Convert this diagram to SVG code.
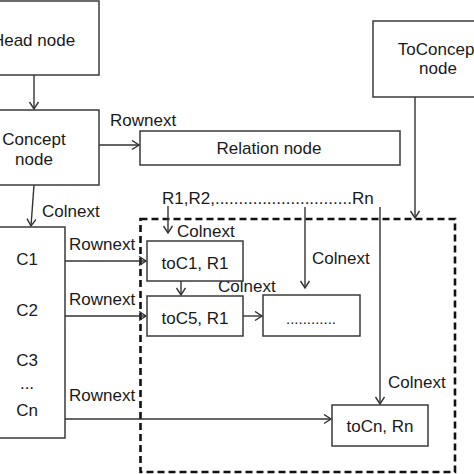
<svg xmlns="http://www.w3.org/2000/svg" width="474" height="474" viewBox="0 0 474 474">
<style>
.box{fill:#fff;stroke:#3a3a3a;stroke-width:1.5}
.ln{fill:none;stroke:#333;stroke-width:1.4}
.dash{fill:none;stroke:#111;stroke-width:2.6;stroke-dasharray:7,4}
text{font-family:"Liberation Sans",Arial,sans-serif;font-size:17px;fill:#1a1a1a}
.c{text-anchor:middle}
</style>
<defs>
<marker id="ah" markerUnits="userSpaceOnUse" markerWidth="12" markerHeight="12" refX="8" refY="5" orient="auto">
<path d="M1,0.5 L8,5 L1,9.5" fill="none" stroke="#333" stroke-width="1.4"/>
</marker>
</defs>
<rect width="474" height="474" fill="#fff"/>
<g id="container">
<rect class="dash" x="140.5" y="219" width="314.5" height="253"/>
</g>
<g id="connectors">
<line class="ln" x1="34" y1="75" x2="34" y2="109" marker-end="url(#ah)"/>
<line class="ln" x1="99" y1="145" x2="139" y2="145" marker-end="url(#ah)"/>
<text x="110" y="126">Rownext</text>
<line class="ln" x1="34" y1="185" x2="31" y2="226" marker-end="url(#ah)"/>
<text x="42" y="217">Colnext</text>
<line class="ln" x1="415" y1="97" x2="415" y2="218" marker-end="url(#ah)"/>
<line class="ln" x1="65" y1="261" x2="146" y2="261" marker-end="url(#ah)"/>
<text x="69" y="250">Rownext</text>
<line class="ln" x1="65" y1="316" x2="146" y2="316" marker-end="url(#ah)"/>
<text x="69" y="305">Rownext</text>
<line class="ln" x1="65" y1="419" x2="331" y2="419" marker-end="url(#ah)"/>
<text x="69" y="401">Rownext</text>
<line class="ln" x1="168" y1="206" x2="168" y2="233" marker-end="url(#ah)"/>
<text x="177" y="237">Colnext</text>
<line class="ln" x1="181" y1="281" x2="181" y2="295" marker-end="url(#ah)"/>
<text x="218" y="292">Colnext</text>
<line class="ln" x1="243" y1="316" x2="262" y2="316" marker-end="url(#ah)"/>
<line class="ln" x1="305" y1="207" x2="305" y2="288" marker-end="url(#ah)"/>
<text x="312" y="264">Colnext</text>
<line class="ln" x1="380" y1="207" x2="380" y2="404" marker-end="url(#ah)"/>
<text x="388" y="388">Colnext</text>
</g>
<g id="head-node">
<rect class="box" x="-30" y="1" width="129" height="74"/>
<text class="c" x="33.5" y="46">Head node</text>
</g>
<g id="concept-node">
<rect class="box" x="-30" y="110" width="129" height="75"/>
<text class="c" x="34" y="145">Concept</text>
<text class="c" x="34" y="165">node</text>
</g>
<g id="relation-node">
<rect class="box" x="140" y="131" width="260" height="34"/>
<text class="c" x="269" y="154">Relation node</text>
</g>
<g id="toconcept-node">
<rect class="box" x="373" y="21" width="132" height="76"/>
<text class="c" x="438.5" y="55">ToConcept</text>
<text class="c" x="438" y="74">node</text>
</g>
<g id="relation-list">
<text x="162" y="204">R1,R2,.............................Rn</text>
</g>
<g id="concept-list">
<rect class="box" x="-30" y="227" width="95" height="211"/>
<text class="c" x="27" y="265">C1</text>
<text class="c" x="27" y="316">C2</text>
<text class="c" x="27" y="366">C3</text>
<text class="c" x="27" y="389">...</text>
<text class="c" x="27" y="416">Cn</text>
</g>
<g id="toC1">
<rect class="box" x="147" y="241" width="96" height="40"/>
<text class="c" x="195" y="269">toC1, R1</text>
</g>
<g id="toC5">
<rect class="box" x="147" y="296" width="96" height="40"/>
<text class="c" x="195" y="324">toC5, R1</text>
</g>
<g id="dots-node">
<rect class="box" x="263" y="295" width="97" height="41"/>
<text class="c" x="311" y="324" style="font-size:15px">............</text>
</g>
<g id="toCn">
<rect class="box" x="332" y="405" width="96" height="41"/>
<text class="c" x="380" y="432">toCn, Rn</text>
</g>
</svg>
